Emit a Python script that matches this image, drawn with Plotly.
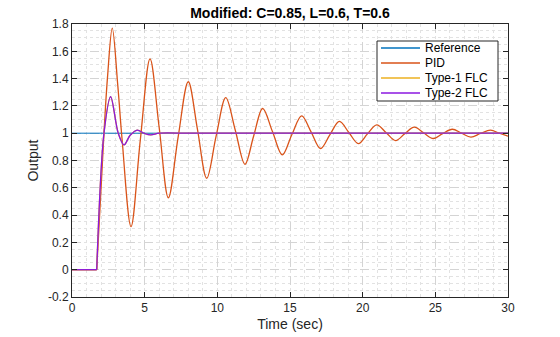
import plotly.graph_objects as go

# ---- data ----
t_ref = [0, 30]
y_ref = [1, 1]

# flat part before the step response starts (same for all controllers)
t_flat = [0, 1.7]
y_flat = [0, 0]

t_pid = [1.7, 2.2, 2.45, 2.77, 3.15, 3.45, 4.06, 4.7, 5.37, 6.0, 6.63, 7.3, 8.0, 8.63,
         9.27, 9.92, 10.58, 11.24, 11.9, 12.5, 13.12, 13.8, 14.47, 15.13, 15.8, 16.45,
         17.1, 17.75, 18.4, 19.05, 19.7, 20.33, 20.97, 21.62, 22.27, 22.9, 23.55, 24.2,
         24.86, 25.5, 26.17, 26.8, 27.45, 28.1, 28.8, 29.4, 30]
y_pid = [0, 1.0, 1.42, 1.77, 1.35, 0.95, 0.315, 0.95, 1.544, 1.04, 0.527, 0.97, 1.377, 1.03,
         0.67, 0.98, 1.26, 1.02, 0.772, 0.98, 1.181, 1.01, 0.841, 0.99, 1.127, 1.01,
         0.888, 0.99, 1.086, 1.005, 0.924, 0.995, 1.061, 1.003, 0.946, 0.997, 1.044, 1.002,
         0.961, 0.997, 1.029, 1.0, 0.971, 0.998, 1.022, 1.0, 0.978]

t_t1 = [1.7, 2.2, 2.66, 3.18, 3.58, 4.0, 4.49, 4.95, 5.42, 6.0, 8.0, 12, 16, 20, 24, 28, 30]
y_t1 = [0, 1.0, 1.267, 1.0, 0.914, 0.985, 1.023, 1.0, 0.987, 1.0, 1.0, 1.0, 1.0, 1.0, 1.0, 1.0, 1.0]

t_t2 = [1.7, 2.2, 2.66, 3.18, 3.58, 4.0, 4.49, 4.95, 5.42, 6.0, 8.0, 12, 16, 20, 24, 28, 30]
y_t2 = [0, 1.0, 1.267, 1.0, 0.914, 0.985, 1.023, 1.0, 0.987, 1.0, 1.0, 1.0, 1.0, 1.0, 1.0, 1.0, 1.0]

series_names = ["Reference", "PID", "Type-1 FLC", "Type-2 FLC"]
series_colors = ["#0072BD", "#D95319", "#EDB120", "#8B17E0"]

x_ticks = [0, 5, 10, 15, 20, 25, 30]
y_ticks = [-0.2, 0, 0.2, 0.4, 0.6, 0.8, 1, 1.2, 1.4, 1.6, 1.8]
y_tick_labels = ["-0.2", "0", "0.2", "0.4", "0.6", "0.8", "1", "1.2", "1.4", "1.6", "1.8"]

FONT = "Liberation Sans, Arial, sans-serif"
W, H = 560, 337
L, R, T, B = 72, 52, 24, 40
PW, PH = W - L - R, H - T - B


def px_x(px):
    return (px - L) / PW


def px_y(py):
    return (H - B - py) / PH


fig = go.Figure()
fig.add_trace(go.Scatter(x=t_ref, y=y_ref, mode="lines", name=series_names[0],
                         line=dict(color=series_colors[0], width=1)))
curves = [(t_pid, y_pid, 1), (t_t1, y_t1, 2), (t_t2, y_t2, 3)]
for tt, yy, i in curves:
    fig.add_trace(go.Scatter(x=t_flat, y=y_flat, mode="lines", name=series_names[i],
                             legendgroup=series_names[i], showlegend=False,
                             line=dict(color=series_colors[i], width=1.3)))
    fig.add_trace(go.Scatter(x=tt, y=yy, mode="lines", name=series_names[i],
                             legendgroup=series_names[i], showlegend=False,
                             line=dict(color=series_colors[i], width=1.3, shape="spline",
                                       smoothing=1.0 if i == 1 else 0.9)))

axis_common = dict(
    showline=True, linecolor="#262626", linewidth=1, mirror="ticks",
    ticks="inside", ticklen=5, tickcolor="#262626", tickwidth=1,
    showgrid=True, gridcolor="#d4d4d4", griddash="dash", gridwidth=1,
    zeroline=False, automargin=False,
    tickfont=dict(family=FONT, size=12, color="#262626"),
)

# manual legend (box + line samples + text)
box = dict(x0=377, x1=498, y0=41, y1=101)
shapes = [dict(type="rect", xref="paper", yref="paper",
               x0=px_x(box["x0"]), x1=px_x(box["x1"]), y0=px_y(box["y1"]), y1=px_y(box["y0"]),
               line=dict(color="#262626", width=1), fillcolor="white", layer="above")]
annotations = []
row_y = [48, 63, 78, 93]
for name, color, ry in zip(series_names, series_colors, row_y):
    shapes.append(dict(type="line", xref="paper", yref="paper",
                       x0=px_x(381), x1=px_x(420), y0=px_y(ry), y1=px_y(ry),
                       line=dict(color=color, width=1.3), layer="above"))
    annotations.append(dict(text=name, xref="paper", yref="paper", x=px_x(423), y=px_y(ry),
                            xanchor="left", yanchor="middle", showarrow=False,
                            font=dict(family=FONT, size=12, color="#000000")))

fig.update_layout(
    width=W, height=H,
    margin=dict(l=L, r=R, t=T, b=B),
    paper_bgcolor="white", plot_bgcolor="white",
    showlegend=False,
    title=dict(text="<b>Modified: C=0.85, L=0.6, T=0.6</b>", x=290 / W, xanchor="center",
               y=1 - 13 / H, yanchor="middle",
               font=dict(family=FONT, size=14, color="#000000")),
    xaxis=dict(axis_common, range=[0, 30], tickvals=x_ticks,
               title=dict(text="Time (sec)", font=dict(family=FONT, size=14, color="#262626"),
                          standoff=4),
               minor=dict(dtick=1, showgrid=True, gridcolor="#e2e2e2", griddash="dot",
                          ticks="", gridwidth=1)),
    yaxis=dict(axis_common, range=[-0.2, 1.8], tickvals=y_ticks, ticktext=y_tick_labels,
               title=dict(text="Output", font=dict(family=FONT, size=14, color="#262626"),
                          standoff=6),
               minor=dict(dtick=0.05, tick0=0, showgrid=True, gridcolor="#e2e2e2", griddash="dot",
                          ticks="", gridwidth=1)),
    shapes=shapes,
    annotations=annotations,
)

fig.write_html("out.html")
